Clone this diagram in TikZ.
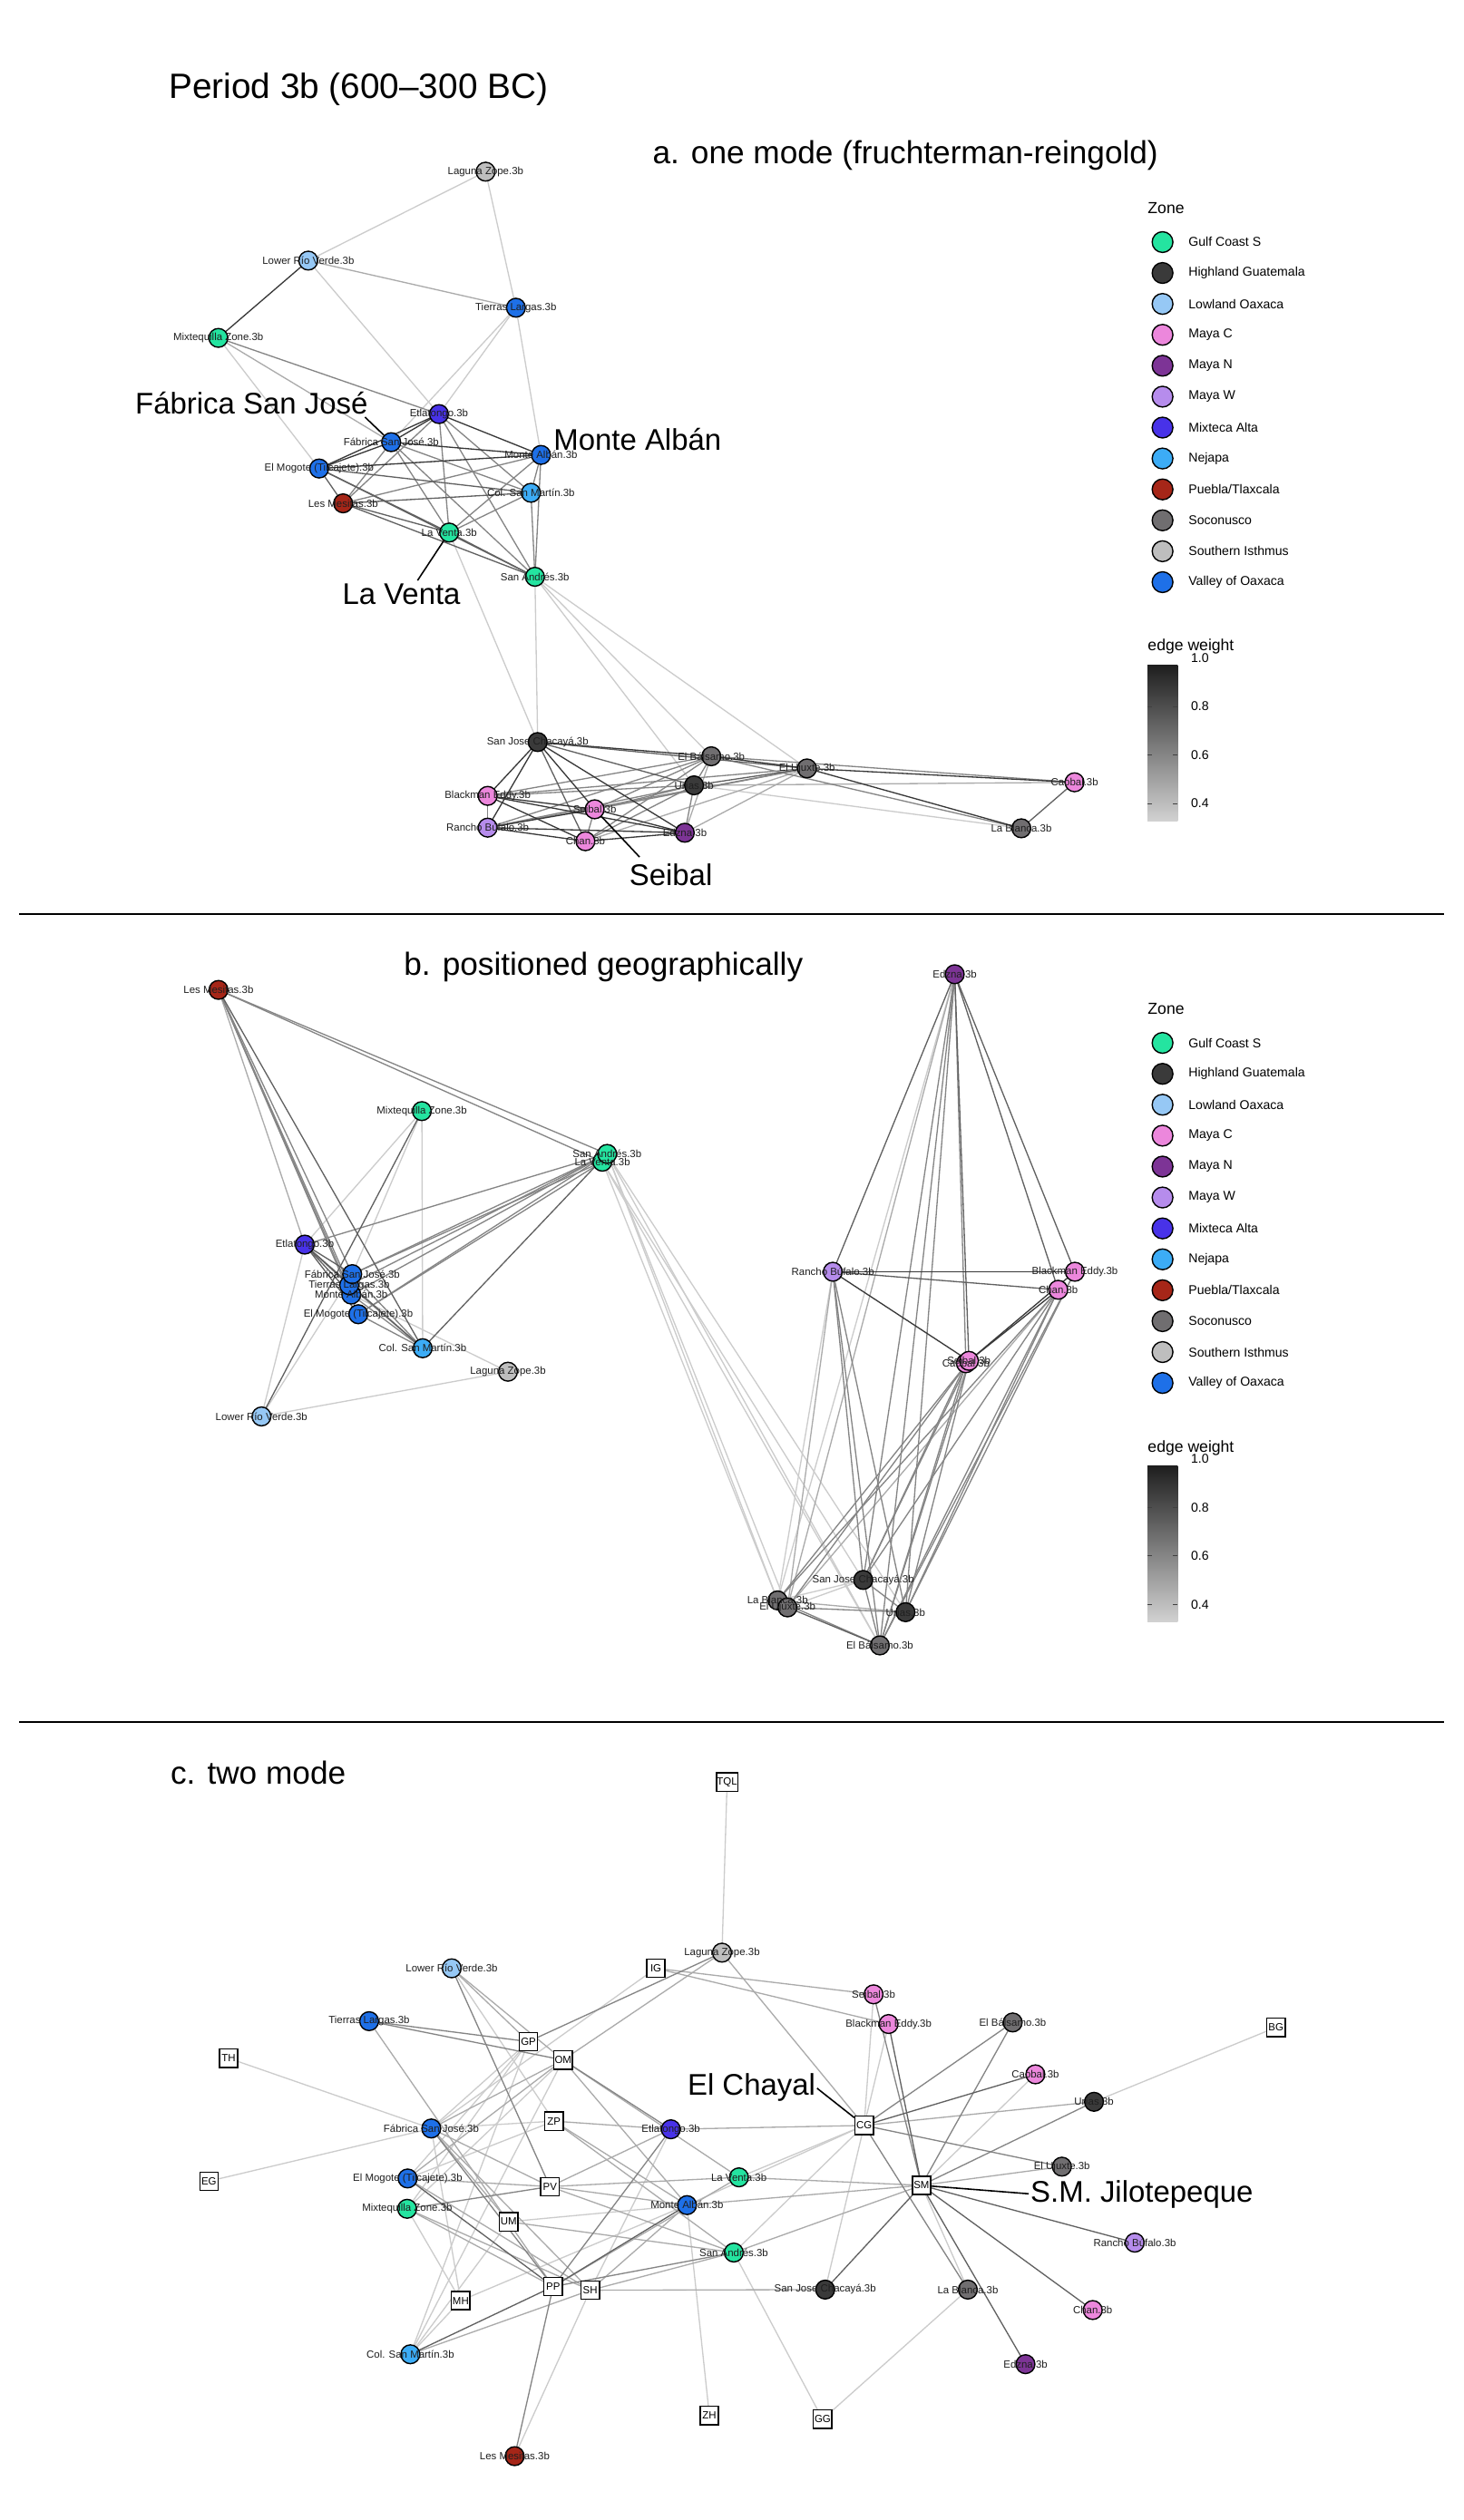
\documentclass[tikz,border=0pt]{standalone}
\usepackage{fontspec}
\setmainfont{Liberation Sans}
\pgfdeclarelayer{edges}
\pgfdeclarelayer{labels}
\pgfsetlayers{edges,main,labels}
\definecolor{zGCS}{RGB}{36,228,160}
\definecolor{zHG}{RGB}{58,58,58}
\definecolor{zLO}{RGB}{150,200,245}
\definecolor{zMC}{RGB}{236,135,220}
\definecolor{zMN}{RGB}{125,52,150}
\definecolor{zMW}{RGB}{182,140,236}
\definecolor{zMA}{RGB}{72,50,232}
\definecolor{zNJ}{RGB}{60,172,246}
\definecolor{zPT}{RGB}{166,38,24}
\definecolor{zSO}{RGB}{112,110,112}
\definecolor{zSI}{RGB}{190,190,190}
\definecolor{zVO}{RGB}{30,112,232}
\tikzset{
  site/.style={circle,draw=black,line width=0.8pt,minimum size=11.8pt,inner sep=0pt},
  gcs/.style={site,fill=zGCS}, hg/.style={site,fill=zHG}, lo/.style={site,fill=zLO},
  mc/.style={site,fill=zMC}, mn/.style={site,fill=zMN}, mw/.style={site,fill=zMW},
  ma/.style={site,fill=zMA}, nj/.style={site,fill=zNJ}, pt/.style={site,fill=zPT},
  so/.style={site,fill=zSO}, si/.style={site,fill=zSI}, vo/.style={site,fill=zVO},
  srcbox/.style={rectangle,draw=black,line width=0.8pt,fill=white,minimum size=11.5pt,inner sep=0.3pt,font=\fontsize{6.5}{7}\selectfont},
  lbl/.style={inner sep=0pt,font=\fontsize{6.5}{7}\selectfont,text=black!88},
  big/.style={inner sep=0pt,font=\fontsize{18.7}{20}\selectfont},
  subttl/.style={inner sep=0pt,anchor=west,font=\fontsize{20}{22}\selectfont},
  legtxt/.style={anchor=west,inner sep=0pt,font=\fontsize{8}{9}\selectfont},
  legttl/.style={anchor=west,inner sep=0pt,font=\fontsize{10}{12}\selectfont},
  cbar/.style={rectangle,inner sep=0pt,minimum width=18.9pt,minimum height=97.5pt,top color=black!88,bottom color=black!18},
  leader/.style={draw=black,line width=0.9pt},
  e1/.style={line width=0.75pt,draw=black!20},
  e2/.style={line width=0.75pt,draw=black!33},
  e3/.style={line width=0.75pt,draw=black!48},
  e4/.style={line width=0.75pt,draw=black!62},
  e5/.style={line width=0.75pt,draw=black!78},
}
\newcommand\site[5]{%
  \node[#4] (#1) at (#2,#3) {};
  \begin{pgfonlayer}{labels}\node[lbl] (#1t) at (#1.center) {#5};\end{pgfonlayer}}
\newcommand\srcnode[4]{\node[srcbox] (#1) at (#2,#3) {#4};}
\newcommand\zonelegend[2]{%
  \node[legttl] (#1zt) at (718.4,130.1+#2) {Zone};
  \foreach \col/\txt [count=\i from 0] in {zGCS/Gulf Coast S,zHG/Highland Guatemala,zLO/Lowland Oaxaca,zMC/Maya C,zMN/Maya N,zMW/Maya W,zMA/Mixteca Alta,zNJ/Nejapa,zPT/{Puebla/Tlaxcala},zSO/Soconusco,zSI/Southern Isthmus,zVO/Valley of Oaxaca}{
    \node[site,minimum size=13pt,fill=\col] (#1lc\i) at (727.8,{151.6+19.36*\i+#2}) {};
    \node[legtxt] (#1lt\i) at (743.9,{151.6+19.36*\i+#2}) {\txt};
  }
  \node[cbar] (#1cb) at (727.85,465.25+#2) {};
  \foreach \yy in {442.4,472.8,503.2}{
    \draw[black!75,line width=0.6pt] (718.4,\yy+#2) -- ++(3,0);
    \draw[black!75,line width=0.6pt] (737.3,\yy+#2) -- ++(-3,0);
  }
  \node[legtxt] (#1k10) at (745.4,412.2+#2) {1.0};
  \node[legtxt] (#1k08) at (745.4,442.4+#2) {0.8};
  \node[legtxt] (#1k06) at (745.4,472.8+#2) {0.6};
  \node[legtxt] (#1k04) at (745.4,503.2+#2) {0.4};
  \node[legttl] (#1ew) at (718.4,405.1+#2) {edge weight};
}
\begin{document}
\begin{tikzpicture}[x=1pt,y=-1pt]
\begin{pgfonlayer}{edges}
\path[fill=white,use as bounding box] (0,0) rectangle (916,1578.1);
\end{pgfonlayer}
% titles
\node[inner sep=0pt,anchor=west,font=\fontsize{22}{24}\selectfont] (title) at (105.6,56) {Period 3b (600–300 BC)};
\node[subttl] (ta) at (408.4,97.5) {a. one mode (fruchterman-reingold)};
\node[subttl] (tb) at (252.7,605.3) {b. positioned geographically};
\node[subttl] (tc) at (106.6,1110) {c. two mode};
% dividers
\coordinate (d1l) at (12,572.4); \coordinate (d1r) at (904,572.4);
\coordinate (d2l) at (12,1078.4); \coordinate (d2r) at (904,1078.4);
\draw[line width=0.9pt] (d1l) -- (d1r);
\draw[line width=0.9pt] (d2l) -- (d2r);
% legends
\zonelegend{la}{0}
\zonelegend{lb}{501.5}
% ================= panel a
\site{aLZ}{304.0}{107.5}{si}{Laguna Zope.3b}
\site{aLRV}{193.0}{163.2}{lo}{Lower Río Verde.3b}
\site{aTL}{323.0}{192.7}{vo}{Tierras Largas.3b}
\site{aMZ}{136.7}{211.6}{gcs}{Mixtequilla Zone.3b}
\site{aET}{274.8}{259.3}{ma}{Etlatongo.3b}
\site{aFSJ}{244.9}{276.9}{vo}{Fábrica San José.3b}
\site{aMA}{338.7}{284.9}{vo}{Monte Albán.3b}
\site{aEM}{199.8}{293.4}{vo}{El Mogote (Tilcajete).3b}
\site{aCSM}{332.4}{308.6}{nj}{Col. San Martín.3b}
\site{aLM}{214.8}{315.2}{pt}{Les Mesitas.3b}
\site{aLV}{281.2}{333.5}{gcs}{La Venta.3b}
\site{aSA}{334.9}{361.2}{gcs}{San Andrés.3b}
\site{aSJC}{336.6}{464.7}{hg}{San Jose Chacayá.3b}
\site{aEB}{445.3}{473.6}{so}{El Bálsamo.3b}
\site{aEU}{505.2}{481.2}{so}{El Ujuxte.3b}
\site{aUR}{434.5}{491.8}{hg}{Urías.3b}
\site{aCA}{672.7}{489.9}{mc}{Caobal.3b}
\site{aBE}{305.3}{498.4}{mc}{Blackman Eddy.3b}
\site{aSE}{372.3}{506.8}{mc}{Seibal.3b}
\site{aRB}{305.3}{518.3}{mw}{Rancho Búfalo.3b}
\site{aED}{428.7}{521.5}{mn}{Edzna.3b}
\site{aCH}{366.5}{526.8}{mc}{Chan.3b}
\site{aLB}{639.4}{518.7}{so}{La Blanca.3b}
\node[big] (aFSJb) at (157.5,252.7) {Fábrica San José};
\node[big] (aMAb) at (399.1,275.4) {Monte Albán};
\node[big] (aLVb) at (251.3,372) {La Venta};
\node[big] (aSEb) at (420,548) {Seibal};
\coordinate (aFSJl) at (228.5,261.2);
\coordinate (aLVl) at (261.4,363.5);
\coordinate (aSEl) at (400.4,536.7);
\draw[leader] (aFSJl) -- (aFSJ);
\draw[leader] (aLVl) -- (aLV);
\draw[leader] (aSEl) -- (aSE);
% ================= panel b
\site{bLM}{136.8}{619.9}{pt}{Les Mesitas.3b}
\site{bMZ}{264.1}{695.8}{gcs}{Mixtequilla Zone.3b}
\site{bLV}{377.1}{727.5}{gcs}{La Venta.3b}
\site{bSA}{380.1}{722.6}{gcs}{San Andrés.3b}
\site{bET}{190.8}{779.4}{ma}{Etlatongo.3b}
\site{bMA}{219.9}{810.7}{vo}{Monte Albán.3b}
\site{bTL}{218.6}{804.8}{vo}{Tierras Largas.3b}
\site{bFSJ}{220.5}{797.9}{vo}{Fábrica San José.3b}
\site{bEM}{224.3}{823}{vo}{El Mogote (Tilcajete).3b}
\site{bCSM}{264.6}{844.3}{nj}{Col. San Martín.3b}
\site{bLZ}{318}{859}{si}{Laguna Zope.3b}
\site{bLRV}{163.7}{887}{lo}{Lower Río Verde.3b}
\site{bED}{597.7}{610.1}{mn}{Edzna.3b}
\site{bRB}{521.4}{796.4}{mw}{Rancho Búfalo.3b}
\site{bBE}{672.9}{796.4}{mc}{Blackman Eddy.3b}
\site{bCH}{662.5}{807.7}{mc}{Chan.3b}
\site{bCA}{604.7}{853.7}{mc}{Caobal.3b}
\site{bSE}{606.6}{852.2}{mc}{Seibal.3b}
\site{bSJC}{540.4}{989.4}{hg}{San Jose Chacayá.3b}
\site{bLB}{486.8}{1002.2}{so}{La Blanca.3b}
\site{bEU}{493}{1006.6}{so}{El Ujuxte.3b}
\site{bUR}{566.9}{1009.6}{hg}{Urías.3b}
\site{bEB}{550.8}{1030.4}{so}{El Bálsamo.3b}
% ================= panel c
\site{cLRV}{282.8}{1232.6}{lo}{Lower Río Verde.3b}
\site{cLZ}{452}{1222.8}{si}{Laguna Zope.3b}
\site{cTL}{231.1}{1265.7}{vo}{Tierras Largas.3b}
\site{cFSJ}{270}{1332.9}{vo}{Fábrica San José.3b}
\site{cET}{420}{1333.4}{ma}{Etlatongo.3b}
\site{cEM}{255.2}{1364.2}{vo}{El Mogote (Tilcajete).3b}
\site{cLV}{462.6}{1363.5}{gcs}{La Venta.3b}
\site{cMZ}{254.9}{1383.2}{gcs}{Mixtequilla Zone.3b}
\site{cMA}{430.1}{1380.9}{vo}{Monte Albán.3b}
\site{cSA}{459.4}{1410.6}{gcs}{San Andrés.3b}
\site{cCSM}{256.9}{1474.3}{nj}{Col. San Martín.3b}
\site{cLM}{322.2}{1538.1}{pt}{Les Mesitas.3b}
\site{cSE}{546.9}{1248.9}{mc}{Seibal.3b}
\site{cBE}{556.3}{1267.5}{mc}{Blackman Eddy.3b}
\site{cEB}{634}{1266.5}{so}{El Bálsamo.3b}
\site{cCA}{648.2}{1299}{mc}{Caobal.3b}
\site{cUR}{684.9}{1316.2}{hg}{Urías.3b}
\site{cEU}{664.8}{1356.8}{so}{El Ujuxte.3b}
\site{cRB}{710.4}{1404.4}{mw}{Rancho Búfalo.3b}
\site{cSJC}{516.6}{1433.8}{hg}{San Jose Chacayá.3b}
\site{cLB}{605.9}{1433.8}{so}{La Blanca.3b}
\site{cCH}{684.1}{1446.6}{mc}{Chan.3b}
\site{cED}{642}{1480.5}{mn}{Edzna.3b}
\srcnode{cTQL}{455.2}{1115.9}{TQL}
\srcnode{cIG}{410.6}{1232.6}{IG}
\srcnode{cGP}{330.8}{1278.5}{GP}
\srcnode{cTH}{143.1}{1288.9}{TH}
\srcnode{cOM}{352.5}{1290}{OM}
\srcnode{cZP}{346.8}{1328.3}{ZP}
\srcnode{cEG}{130.8}{1365.9}{EG}
\srcnode{cPV}{344.3}{1369.3}{PV}
\srcnode{cUM}{318.5}{1391.3}{UM}
\srcnode{cPP}{346.3}{1431.9}{PP}
\srcnode{cSH}{369.5}{1434.2}{SH}
\srcnode{cMH}{288.4}{1440.7}{MH}
\srcnode{cZH}{444.1}{1512.6}{ZH}
\srcnode{cGG}{515}{1515}{GG}
\srcnode{cCG}{541}{1331}{CG}
\srcnode{cSM}{576.9}{1368.5}{SM}
\srcnode{cBG}{798.8}{1269.6}{BG}
\node[big] (cCGb) at (470.5,1307.1) {El Chayal};
\node[big,anchor=west] (cSMb) at (645,1374) {S.M. Jilotepeque};
\coordinate (cCGl) at (511.5,1307.7);
\coordinate (cSMl) at (644,1373.8);
\draw[leader] (cCGl) -- (cCG);
\draw[leader] (cSMl) -- (cSM);
% ================= edges
\begin{pgfonlayer}{edges}
% panel a
\foreach \u/\v in {aLZ/aLRV,aLZ/aTL,aLRV/aET,aTL/aFSJ,aTL/aET,aTL/aMA,aMZ/aEM,aLV/aSJC,aSA/aSJC,aSA/aEB,aSA/aEU,aSA/aUR,aUR/aLB}
  \draw[e1] (\u.center) -- (\v.center);
\foreach \u/\v in {aLRV/aTL,aMZ/aFSJ,aEB/aED,aEU/aCH,aEU/aED,aUR/aCA}
  \draw[e2] (\u.center) -- (\v.center);
\foreach \u/\v in {aMZ/aET,aET/aLM,aET/aLV,aET/aCSM,aET/aSA,aFSJ/aCSM,aFSJ/aLM,aFSJ/aLV,aFSJ/aSA,aLM/aMA,aMA/aCSM,aMA/aLV,aMA/aSA,aCSM/aLV,aCSM/aSA,aEB/aCA,aEB/aLB,aEB/aBE,aEB/aRB,aEB/aSE,aEB/aCH,aEB/aUR,aEU/aBE,aEU/aRB,aEU/aSE,aUR/aBE,aUR/aRB,aUR/aSE,aUR/aCH,aUR/aED,aBE/aRB,aSE/aCH}
  \draw[e3] (\u.center) -- (\v.center);
\foreach \u/\v in {aEM/aCSM,aEM/aLM,aEM/aLV,aEM/aSA,aLM/aCSM,aLM/aLV,aLM/aSA,aLV/aSA,aSJC/aEU,aSJC/aCH,aSJC/aUR,aEU/aUR,aCA/aLB}
  \draw[e4] (\u.center) -- (\v.center);
\foreach \u/\v in {aLRV/aMZ,aET/aFSJ,aET/aEM,aET/aMA,aFSJ/aEM,aFSJ/aMA,aEM/aMA,aSJC/aEB,aSJC/aBE,aSJC/aRB,aSJC/aSE,aSJC/aED,aEB/aEU,aEU/aCA,aEU/aLB,aBE/aSE,aBE/aCH,aBE/aED,aRB/aSE,aRB/aCH,aRB/aED,aSE/aED,aCH/aED}
  \draw[e5] (\u.center) -- (\v.center);
% panel b
\foreach \u/\v in {bMZ/bET,bMZ/bFSJ,bMZ/bCSM,bMA/bLZ,bLZ/bLRV,bLRV/bET,bLRV/bFSJ,bSA/bLB,bSA/bEU,bLV/bEB,bSA/bUR,bLV/bSJC,bSA/bEB,bLV/bLB,bED/bLB,bRB/bLB,bSJC/bLB,bSJC/bEU}
  \draw[e1] (\u.center) -- (\v.center);
\foreach \u/\v in {bLM/bET,bED/bEU,bRB/bEU,bCH/bEU,bLB/bUR}
  \draw[e2] (\u.center) -- (\v.center);
\foreach \u/\v in {bLM/bSA,bLM/bLV,bLM/bFSJ,bLM/bTL,bLM/bMA,bLM/bEM,bSA/bET,bSA/bFSJ,bSA/bTL,bSA/bMA,bSA/bEM,bLV/bFSJ,bLV/bEM,bFSJ/bCSM,bEM/bCSM,bTL/bCSM,bMA/bCSM,bED/bSJC,bED/bUR,bED/bEB,bED/bCA,bRB/bSJC,bRB/bEB,bRB/bUR,bCH/bSJC,bCH/bUR,bCH/bEB,bCH/bLB,bBE/bUR,bBE/bEB,bSE/bLB,bSE/bEU,bSE/bSJC,bSE/bUR,bSE/bEB,bCA/bSJC,bCA/bEB,bSJC/bUR,bSJC/bEB,bLB/bEU,bEU/bUR,bLB/bEB}
  \draw[e3] (\u.center) -- (\v.center);
\foreach \u/\v in {bLM/bCSM,bMZ/bLRV,bSA/bCSM,bET/bFSJ,bET/bTL,bET/bMA,bET/bEM,bET/bCSM,bED/bRB,bED/bBE,bED/bCH,bED/bSE,bRB/bCH,bEU/bEB}
  \draw[e4] (\u.center) -- (\v.center);
\foreach \u/\v in {bRB/bBE,bRB/bSE,bBE/bSE,bCH/bSE}
  \draw[e5] (\u.center) -- (\v.center);
% panel c
\foreach \u/\v in {cTQL/cLZ,cIG/cFSJ,cLRV/cZP,cTH/cFSJ,cEG/cFSJ,cFSJ/cGP,cFSJ/cZP,cFSJ/cMH,cEM/cGP,cEM/cZP,cMZ/cGP,cMZ/cOM,cMZ/cMH,cET/cSH,cMA/cUM,cMA/cMH,cMA/cZH,cMA/cCG,cSA/cCG,cSA/cGG,cCSM/cMH,cCSM/cUM,cCSM/cGP,cCSM/cOM,cLM/cSH,cSJC/cCG,cSE/cCG,cBE/cCG,cCA/cSM,cUR/cBG,cLB/cSM,cLB/cGG,cLV/cCG}
  \draw[e1] (\u.center) -- (\v.center);
\foreach \u/\v in {cLZ/cOM,cLZ/cCG,cIG/cSE,cIG/cBE,cLRV/cGP,cLRV/cOM,cTL/cPP,cFSJ/cOM,cFSJ/cPV,cFSJ/cUM,cFSJ/cSH,cEM/cOM,cEM/cPV,cEM/cSH,cMZ/cPP,cMZ/cSH,cET/cZP,cET/cCG,cET/cPV,cOM/cLV,cOM/cMA,cMA/cZP,cMA/cPV,cMA/cSH,cMA/cSM,cLV/cPV,cLV/cSM,cLV/cPP,cSA/cUM,cSA/cPV,cSA/cSH,cSA/cSM,cSA/cZP,cCSM/cSH,cSJC/cSH,cUR/cCG,cEU/cSM}
  \draw[e2] (\u.center) -- (\v.center);
\foreach \u/\v in {cLZ/cGP,cLRV/cPV,cTL/cGP,cTL/cOM,cFSJ/cPP,cMZ/cPV,cET/cOM,cET/cPP,cSA/cPP,cLM/cPP,cSE/cSM,cEB/cCG,cEB/cSM,cUR/cSM,cEU/cCG,cLB/cCG}
  \draw[e3] (\u.center) -- (\v.center);
\foreach \u/\v in {cEM/cPP,cMA/cPP,cCSM/cPP,cSJC/cSM,cBE/cSM,cCA/cCG,cRB/cSM,cCH/cSM,cED/cSM}
  \draw[e4] (\u.center) -- (\v.center);
\end{pgfonlayer}
\end{tikzpicture}
\end{document}
